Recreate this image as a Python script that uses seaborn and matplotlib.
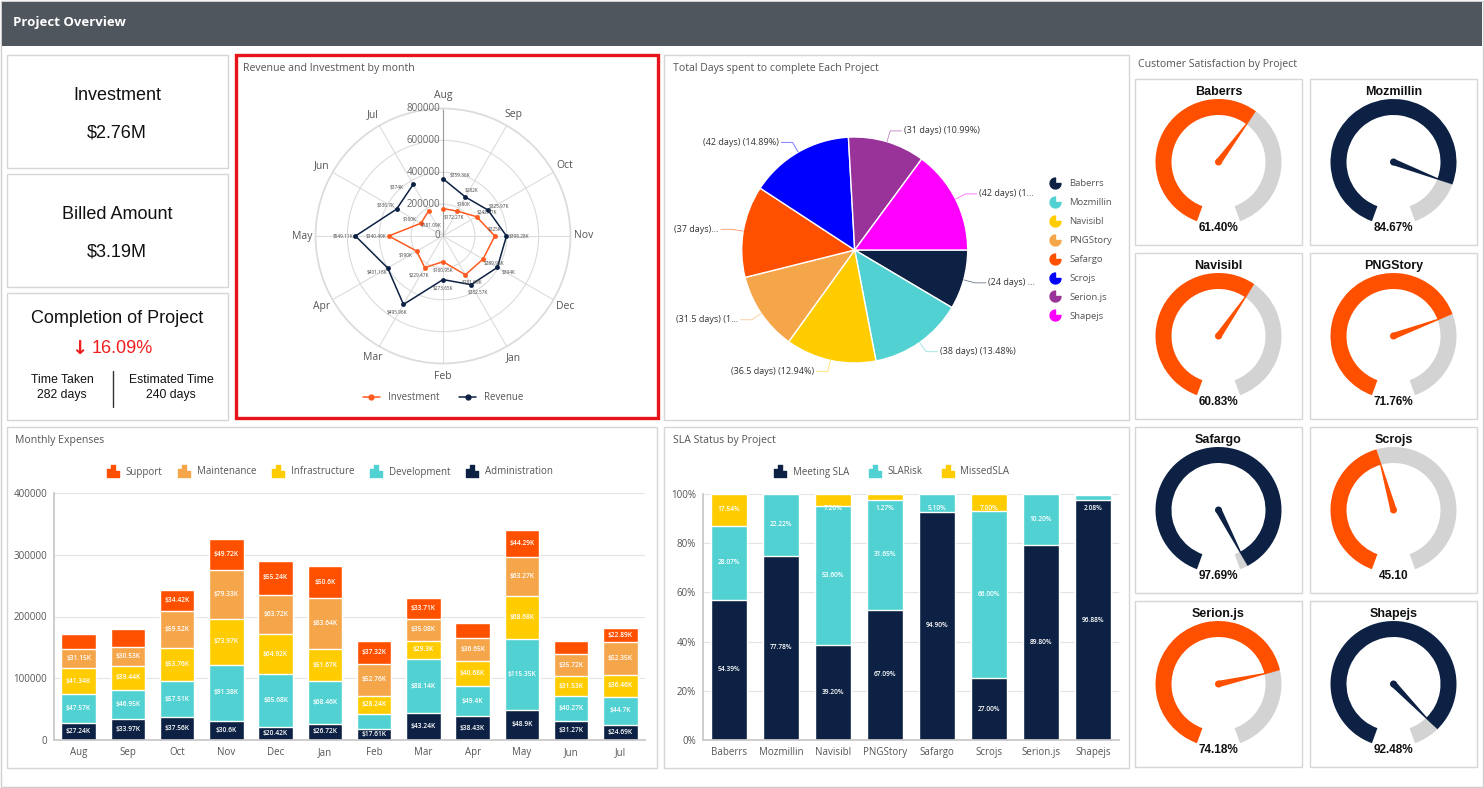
"""Project Overview dashboard: KPIs, radar, pie, stacked bars and gauges."""
import numpy as np
import matplotlib
matplotlib.use("Agg")
import matplotlib.pyplot as plt
from matplotlib.patches import Rectangle, Wedge, Circle, Polygon
from matplotlib.lines import Line2D
from matplotlib.path import Path
import seaborn as sns

W, H = 1484, 788

MONTHS = ["Aug", "Sep", "Oct", "Nov", "Dec", "Jan", "Feb", "Mar", "Apr", "May", "Jun", "Jul"]
# $K
INVESTMENT = [172.27, 180.0, 242.77, 325.0, 289.98, 281.09, 160.95, 229.47, 190.0, 340.49, 160.0, 181.09]
REVENUE = [359.36, 282.0, 325.97, 398.28, 394.0, 352.57, 273.65, 495.96, 401.16, 549.11, 336.7, 374.0]

SUPPORT = [24.97, 29.5, 34.42, 49.72, 55.24, 50.6, 37.32, 33.71, 25.0, 44.29, 21.2, 22.89]
MAINTENANCE = [31.15, 30.53, 59.52, 79.33, 63.72, 83.64, 52.76, 35.08, 36.65, 63.27, 35.72, 52.35]
INFRASTRUCTURE = [41.34, 39.44, 53.76, 73.97, 64.92, 51.67, 28.24, 29.3, 40.68, 68.68, 31.53, 36.46]
DEVELOPMENT = [47.57, 46.95, 57.51, 91.38, 85.68, 68.46, 25.02, 88.14, 49.4, 115.35, 40.27, 44.7]
ADMINISTRATION = [27.24, 33.97, 37.56, 30.6, 20.42, 26.72, 17.61, 43.24, 38.43, 48.9, 31.27, 24.69]
# segments the source chart leaves without a data label
UNLABELED = {("Support", "Aug"), ("Support", "Sep"), ("Support", "Apr"),
             ("Support", "Jun"), ("Development", "Feb")}

PROJECTS = ["Baberrs", "Mozmillin", "Navisibl", "PNGStory", "Safargo", "Scrojs", "Serion.js", "Shapejs"]
DAYS = [24, 38, 36.5, 31.5, 37, 42, 31, 42]
PIE_LABELS = ["(24 days) ...", "(38 days) (13.48%)", "(36.5 days) (12.94%)", "(31.5 days) (1...",
              "(37 days)...", "(42 days) (14.89%)", "(31 days) (10.99%)", "(42 days) (1..."]

SLA_MEETING = [57.0, 75.0, 38.8, 52.9, 92.7, 25.1, 79.1, 97.4]
SLA_RISK = [30.1, 25.0, 56.2, 44.8, 7.3, 67.8, 20.9, 2.0]
SLA_MISSED = [12.9, 0.0, 5.0, 2.3, 0.0, 7.1, 0.0, 0.6]
SLA_MEETING_LBL = ["54.39%", "77.78%", "39.20%", "67.09%", "94.90%", "27.00%", "89.80%", "96.88%"]
SLA_RISK_LBL = ["28.07%", "22.22%", "53.60%", "31.65%", "5.10%", "66.00%", "10.20%", "2.08%"]
SLA_MISSED_LBL = ["17.54%", "", "7.20%", "1.27%", "", "7.00%", "", ""]

SATISFACTION = [61.40, 84.67, 60.83, 71.76, 97.69, 45.10, 74.18, 92.48]
SATISFACTION_TXT = ["61.40%", "84.67%", "60.83%", "71.76%", "97.69%", "45.10", "74.18%", "92.48%"]

NAVY = "#0c2143"
ORANGE = "#ff5000"
LIGHT_ORANGE = "#f5a54a"
YELLOW = "#ffcc00"
TEAL = "#52d1d2"
BORDER = "#d6d6d6"
TXT = "#555555"
PIE_COLORS = [NAVY, TEAL, YELLOW, LIGHT_ORANGE, ORANGE, "#0000ff", "#993399", "#ff00ff"]

# nudges (points) for radar value labels that would sit on the axis labels
REV_NUDGE = {"Aug": (12, 3), "Jul": (-12, -2)}
INV_NUDGE = {"Aug": (8, -6), "Jul": (2, -10), "Nov": (0, 5)}

sns.set_theme(style="white")
plt.rcParams["font.family"] = ["Open Sans", "DejaVu Sans"]
ARIAL = ["Liberation Sans", "DejaVu Sans"]


def R(x0, y0, x1, y1):
    """figure-fraction rect from a pixel box with top-left origin"""
    return [x0 / W, 1 - y1 / H, (x1 - x0) / W, (y1 - y0) / H]


def box(ax, x0, y0, x1, y1, ec=BORDER, lw=1.0, fc="white"):
    ax.add_patch(Rectangle((x0, H - y1), x1 - x0, y1 - y0, fc=fc, ec=ec, lw=lw))


def bar_icon():
    verts, codes = [], []
    for x0, h in [(-1.0, 1.3), (-0.3, 2.0), (0.4, 1.0)]:
        x1 = x0 + 0.55
        verts += [(x0, -1), (x1, -1), (x1, -1 + h), (x0, -1 + h), (x0, -1)]
        codes += [Path.MOVETO, Path.LINETO, Path.LINETO, Path.LINETO, Path.CLOSEPOLY]
    return Path(verts, codes)


fig = plt.figure(figsize=(W / 100, H / 100), dpi=100)
fig.patch.set_facecolor("white")

# ---------- canvas for panels, KPIs, gauges
cv = fig.add_axes([0, 0, 1, 1])
cv.set_xlim(0, W)
cv.set_ylim(0, H)
cv.axis("off")
box(cv, 1, 1, W - 1, H - 1, ec="#cfcfcf")
box(cv, 2, 2, W - 2, 46, ec="none", fc="#50565e")
cv.text(13, H - 22, "Project Overview", color="white", fontsize=9.5, fontweight="bold", va="center")

for p in [(7, 55, 228, 168), (7, 174, 228, 287), (7, 293, 228, 420), (664, 55, 1129, 420),
          (7, 427, 657, 768), (664, 427, 1129, 768)]:
    box(cv, *p)
box(cv, 236, 55, 658, 418, ec="#e8141c", lw=2.4)

kpi = dict(ha="center", va="center", color="#111111", family=ARIAL)
cv.text(117, H - 95, "Investment", fontsize=13, **kpi)
cv.text(117, H - 133, "$2.76M", fontsize=13, **kpi)
cv.text(117, H - 214, "Billed Amount", fontsize=13, **kpi)
cv.text(117, H - 252, "$3.19M", fontsize=13, **kpi)
cv.text(117, H - 318, "Completion of Project", fontsize=13, **kpi)
cv.text(79, H - 348, "\u2193", fontsize=14, fontweight="bold", ha="center", va="center",
        color="#f01e1e", family=["DejaVu Sans"])
cv.text(92, H - 348, "16.09%", fontsize=13, ha="left", va="center", color="#f01e1e", family=ARIAL)
cv.text(62, H - 380, "Time Taken", fontsize=8.8, **kpi)
cv.text(62, H - 395, "282 days", fontsize=8.8, **kpi)
cv.text(171, H - 380, "Estimated Time", fontsize=8.8, **kpi)
cv.text(171, H - 395, "240 days", fontsize=8.8, **kpi)
cv.plot([113, 113], [H - 371, H - 407], color="#333333", lw=1)

title = dict(fontsize=7.6, color=TXT, va="center")
cv.text(243, H - 68, "Revenue and Investment by month", **title)
cv.text(673, H - 68, "Total Days spent to complete Each Project", **title)
cv.text(1138, H - 64, "Customer Satisfaction by Project", **title)
cv.text(15, H - 440, "Monthly Expenses", **title)
cv.text(673, H - 440, "SLA Status by Project", **title)

# ---------- gauges
START, SWEEP = 250, 320
GX = [1135, 1310]
GY = [79, 253, 427, 601]
for i, (name, val, txt) in enumerate(zip(PROJECTS, SATISFACTION, SATISFACTION_TXT)):
    x0, y0 = GX[i % 2], GY[i // 2]
    box(cv, x0, y0, x0 + 167, y0 + 166)
    cx, cy = x0 + 83.5, H - (y0 + 83)
    color = NAVY if val > 80 else ORANGE
    end = START - SWEEP * val / 100
    cv.add_patch(Wedge((cx, cy), 63, START - SWEEP, end, width=16, fc="#d3d3d3", ec="none"))
    cv.add_patch(Wedge((cx, cy), 63, end, START, width=16, fc=color, ec="none"))
    a = np.deg2rad(end)
    tip = (cx + 61 * np.cos(a), cy + 61 * np.sin(a))
    nx, ny = -np.sin(a) * 3.2, np.cos(a) * 3.2
    cv.add_patch(Polygon([(cx + nx, cy + ny), tip, (cx - nx, cy - ny)], fc=color, ec="none"))
    cv.add_patch(Circle((cx, cy), 3.5, fc=color, ec="none"))
    cv.text(cx, H - (y0 + 13), name, ha="center", va="center", fontsize=9, fontweight="bold",
            color="#111111", family=ARIAL)
    cv.text(cx, H - (y0 + 149), txt, ha="center", va="center", fontsize=8.5, fontweight="bold",
            color="#111111", family=ARIAL)

# ---------- radar
rc, rr = (443, 236), 127.5
axr = fig.add_axes(R(rc[0] - rr, rc[1] - rr, rc[0] + rr, rc[1] + rr), projection="polar")
axr.set_theta_zero_location("N")
axr.set_theta_direction(-1)
theta = np.deg2rad(np.arange(len(MONTHS)) * 30)
th = np.append(theta, theta[0])
inv = np.array(INVESTMENT + INVESTMENT[:1]) * 1000
rev = np.array(REVENUE + REVENUE[:1]) * 1000
axr.plot([0, 0], [0, 800000], color="#9a9a9a", lw=0.8, zorder=1)
sns.lineplot(x=th, y=rev, sort=False, color=NAVY, lw=1.1, marker="o", markersize=3.5,
             markeredgewidth=0, ax=axr, legend=False)
sns.lineplot(x=th, y=inv, sort=False, color="#ff5a1f", lw=1.1, marker="o", markersize=3.5,
             markeredgewidth=0, ax=axr, legend=False)
axr.set_ylim(0, 800000)
rticks = [0, 200000, 400000, 600000, 800000]
axr.set_yticks(rticks)
axr.set_yticklabels([])
axr.set_xticks(theta)
axr.set_xticklabels(MONTHS)
axr.tick_params(axis="x", pad=-3.5, colors=TXT, labelsize=7.5)
axr.grid(color="#dcdcdc", lw=0.8)
axr.spines["polar"].set_color("#dcdcdc")
axr.set_xlabel("")
axr.set_ylabel("")
for v in rticks:
    axr.annotate(str(v), xy=(0, v), xytext=(-2, 0), textcoords="offset points",
                 ha="right", va="center", fontsize=7, color="#666666")
# small value labels, pushed slightly outward from each point
for vals, nudge in ((REVENUE, REV_NUDGE), (INVESTMENT, INV_NUDGE)):
    for m, t, v in zip(MONTHS, theta, vals):
        off = nudge.get(m, (9 * np.sin(t), 6 * np.cos(t)))
        axr.annotate(f"${v:g}K", xy=(t, v * 1000), xytext=off, textcoords="offset points",
                     ha="center", va="center", fontsize=3.4, color="#444444")
fig.legend(handles=[Line2D([], [], color="#ff5a1f", marker="o", ms=3.5, lw=1.1),
                    Line2D([], [], color=NAVY, marker="o", ms=3.5, lw=1.1)],
           labels=["Investment", "Revenue"], loc="center", bbox_to_anchor=(443 / W, 1 - 398 / H),
           ncol=2, frameon=False, fontsize=7, handlelength=1.8, columnspacing=2.0,
           labelcolor=TXT)

# ---------- pie
pc, pr = (854.7, 250), 113
axp = fig.add_axes(R(pc[0] - pr, pc[1] - pr, pc[0] + pr, pc[1] + pr))
wedges, _ = axp.pie(DAYS, colors=PIE_COLORS, startangle=0, counterclock=False, radius=1)
axp.set_xlim(-1, 1)
axp.set_ylim(-1, 1)
for w, lbl, c in zip(wedges, PIE_LABELS, PIE_COLORS):
    a = np.deg2rad((w.theta1 + w.theta2) / 2)
    ca, sa = np.cos(a), np.sin(a)
    side = 1 if ca >= 0 else -1
    ex, ey = 1.1 * ca, 1.1 * sa
    axp.plot([ca, ex, ex + side * 0.1], [sa, ey, ey], color=c, lw=0.6, alpha=0.6, clip_on=False)
    axp.text(ex + side * 0.12, ey, lbl, ha="left" if side > 0 else "right", va="center",
             fontsize=6.5, color="#333333", clip_on=False)
pie_handles = [Line2D([], [], ls="", marker=Path.wedge(90, 360), ms=8, color=c) for c in PIE_COLORS]
fig.legend(handles=pie_handles, labels=PROJECTS, loc="center left",
           bbox_to_anchor=(1037 / W, 1 - 250 / H), frameon=False, fontsize=6.8,
           labelspacing=1.05, handletextpad=0.5, labelcolor=TXT)

# ---------- monthly expenses (stacked via cumulative seaborn bars)
axe = fig.add_axes(R(54, 493, 645, 740))
layers = [("Administration", ADMINISTRATION, NAVY), ("Development", DEVELOPMENT, TEAL),
          ("Infrastructure", INFRASTRUCTURE, YELLOW), ("Maintenance", MAINTENANCE, LIGHT_ORANGE),
          ("Support", SUPPORT, ORANGE)]
cums = np.cumsum([np.array(v) for _, v, _ in layers], axis=0) * 1000
for (name, vals, c), top in reversed(list(zip(layers, cums))):
    sns.barplot(x=MONTHS, y=top, color=c, width=0.7, saturation=1, ax=axe)
bottoms = np.vstack([np.zeros(len(MONTHS)), cums[:-1]])
for (name, vals, c), bot in zip(layers, bottoms):
    for i, (m, v) in enumerate(zip(MONTHS, vals)):
        if (name, m) in UNLABELED:
            continue
        axe.text(i, bot[i] + v * 500, f"${v:g}K", ha="center", va="center", fontsize=4.8,
                 fontweight="semibold", color="white")
axe.set_ylim(0, 400000)
axe.set_yticks([0, 100000, 200000, 300000, 400000])
axe.set_yticklabels(["0", "100000", "200000", "300000", "400000"])
fig.legend(handles=[Line2D([], [], ls="", marker=bar_icon(), ms=9, color=c) for _, _, c in reversed(layers)],
           labels=[n for n, _, _ in reversed(layers)], loc="center", bbox_to_anchor=(328 / W, 1 - 472 / H),
           ncol=5, frameon=False, fontsize=7, handletextpad=0.3, columnspacing=1.25, labelcolor=TXT)

# ---------- SLA status
axs = fig.add_axes(R(703, 494, 1119, 740))
sla = [(SLA_MEETING, SLA_MEETING_LBL, NAVY), (SLA_RISK, SLA_RISK_LBL, TEAL),
       (SLA_MISSED, SLA_MISSED_LBL, YELLOW)]
scum = np.cumsum([np.array(v) for v, _, _ in sla], axis=0)
for (vals, _, c), top in reversed(list(zip(sla, scum))):
    sns.barplot(x=PROJECTS, y=top, color=c, width=0.7, saturation=1, ax=axs)
sbot = np.vstack([np.zeros(len(PROJECTS)), scum[:-1]])
for (vals, lbls, c), bot in zip(sla, sbot):
    for i, (v, lbl) in enumerate(zip(vals, lbls)):
        if lbl:
            axs.text(i, min(bot[i] + v / 2, 94), lbl, ha="center", va="center", fontsize=4.8,
                     fontweight="semibold", color="white")
axs.set_ylim(0, 100)
axs.set_yticks([0, 20, 40, 60, 80, 100])
axs.set_yticklabels(["0%", "20%", "40%", "60%", "80%", "100%"])
fig.legend(handles=[Line2D([], [], ls="", marker=bar_icon(), ms=9, color=c) for _, _, c in sla],
           labels=["Meeting SLA", "SLARisk", "MissedSLA"], loc="center",
           bbox_to_anchor=(890 / W, 1 - 472 / H), ncol=3, frameon=False, fontsize=7,
           handletextpad=0.3, columnspacing=1.6, labelcolor=TXT)

for ax in (axe, axs):
    ax.set_xlabel("")
    ax.set_ylabel("")
    ax.set_facecolor("none")
    ax.yaxis.grid(True, color="#e4e4e4", lw=0.8)
    ax.set_axisbelow(True)
    for s in ("top", "right"):
        ax.spines[s].set_visible(False)
    for s in ("left", "bottom"):
        ax.spines[s].set_color("#c8c8c8")
    ax.tick_params(length=0, labelsize=7, colors=TXT, pad=5)

fig.savefig("out.png", dpi=100)
